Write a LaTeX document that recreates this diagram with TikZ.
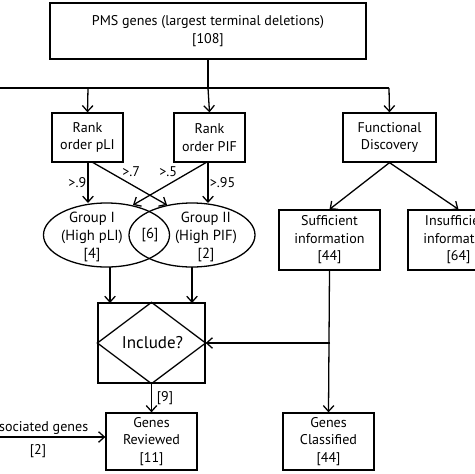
\documentclass[tikz,border=0pt]{standalone}
\usepackage{fontspec}
\setmainfont{PT Sans}
\usepackage{tikz}
\usetikzlibrary{shapes.geometric, arrows.meta}

\begin{document}
\begin{tikzpicture}[
  x=0.03cm, y=-0.03cm, line width=1.1pt,
  box/.style={draw, minimum width=2.13cm, minimum height=1.47cm,
              align=center, inner sep=1pt},
  grp/.style={draw, ellipse, minimum width=3.78cm, minimum height=1.92cm},
  lbl/.style={align=center, inner sep=1pt},
  arr/.style={-{Straight Barb[length=5pt, width=9pt]}}
]
\useasboundingbox (0,0) rectangle (474,474);
\fontsize{12}{15}\selectfont
% Row 1: source
\node[box, minimum width=9.48cm, minimum height=1.68cm]
  (pms) at (208,31) {PMS genes (largest terminal deletions)\\ {[108]}};
\coordinate (split) at (208,88);
\coordinate (lend)  at (-5,88);
% Row 2: ranking and discovery
\node[box] (rpli) at (87.5,137.5) {Rank\\ order pLI};
\node[box] (rpif) at (209.5,137.5) {Rank\\ order PIF};
\node[box, minimum width=2.79cm] (func) at (389.5,137.5) {Functional\\ Discovery};
% Row 3: groups
\node[grp] (g1) at (106.5,235) {};
\node[grp] (g2) at (192,235) {};
\node[lbl, font=\fontsize{12.5}{15}\selectfont] (g1t) at (92,237) {Group I\\ (High pLI)\\ {[4]}};
\node[lbl, font=\fontsize{12.5}{15}\selectfont] (g2t) at (206,237) {Group II\\ (High PIF)\\ {[2]}};
\node[lbl, font=\fontsize{12.5}{15}\selectfont] (both) at (150,235) {[6]};
\node[box, minimum width=3.03cm, minimum height=1.8cm] (suff) at (329.5,240)
  {Sufficient\\ information\\ {[44]}};
\node[box, minimum width=3.03cm, minimum height=1.8cm] (insuff) at (458.5,240)
  {Insufficient\\ information\\ {[64]}};
% Row 4: decision
\node[draw, minimum width=3.21cm, minimum height=2.4cm] (inc) at (151.5,343) {};
\node[lbl, font=\fontsize{14.5}{17}\selectfont] (inct) at (152.5,343) {Include?};
\draw (inc.north) -- (inc.east) -- (inc.south) -- (inc.west) -- cycle;
\coordinate (join) at (330,343);
% Row 5: results
\node[box, minimum width=2.73cm, minimum height=1.71cm] (rev) at (151.5,441.5)
  {Genes\\ Reviewed\\ {[11]}};
\node[box, minimum width=2.73cm, minimum height=1.71cm] (cls) at (328.5,441.5)
  {Genes\\ Classified\\ {[44]}};
\node[lbl, anchor=east] (assoc) at (90,428) {Autism associated genes};
\node[lbl] (assocn) at (38,451) {[2]};
\coordinate (astart) at (-5,437);
% Arrows
\draw (pms.south) -- (split);
\draw (lend) -- (389,88);
\draw[arr] (88,88) -- (rpli.north);
\draw[arr] (split) -- (rpif.north);
\draw[arr] (389,88) -- (func.north);
\draw[arr] (88,162) -- node[left, lbl] {>.9} (88,203);
\draw[arr] (92,162) -- node[pos=0.38, above right, lbl] {>.7} (167,205);
\draw[arr] (207,162) -- node[pos=0.38, above left, lbl] {>.5} (133,205);
\draw[arr] (208,162) -- node[right, lbl] {>.95} (208,203);
\draw[arr] (func.south) -- (suff.north);
\draw[arr] (func.south) -- (insuff.north);
\draw[arr] (110,267) -- (110,303);
\draw[arr] (192,267) -- (192,303);
\draw[arr] (suff.south) -- (cls.north);
\draw[arr] (join) -- (inc.east);
\draw[arr] (inc.south) -- node[right, lbl, xshift=3pt] {[9]} (rev.north);
\draw[arr] (astart) -- (rev.west |- astart);
\end{tikzpicture}
\end{document}
